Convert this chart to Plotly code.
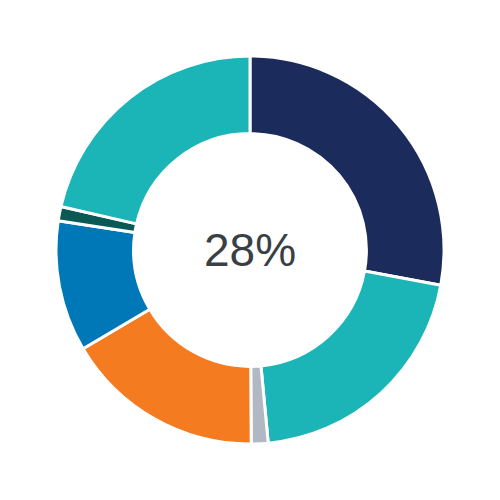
import plotly.graph_objects as go

labels = ["A", "B", "C", "D", "E", "F", "G"]
values = [27.9, 20.6, 1.4, 16.6, 10.9, 1.2, 21.4]
colors = ["#1B2B5B", "#1BB5B8", "#B1B8C4", "#F47B20", "#0077B6", "#0B5955", "#1BB5B8"]
center_text = "28%"

fig = go.Figure(go.Pie(
    labels=labels,
    values=values,
    hole=0.6,
    sort=False,
    direction="clockwise",
    rotation=0,
    textinfo="none",
    marker=dict(colors=colors, line=dict(color="white", width=3)),
    showlegend=False,
))
fig.update_layout(
    width=500, height=500,
    margin=dict(l=48, r=64, t=48, b=64),
    paper_bgcolor="white",
    annotations=[dict(text=center_text, x=0.5, y=0.5, xref="paper", yref="paper",
                      showarrow=False, font=dict(family="Liberation Sans, Arial", size=46, color="#3A3F46"))],
)
fig.write_html("out.html")
